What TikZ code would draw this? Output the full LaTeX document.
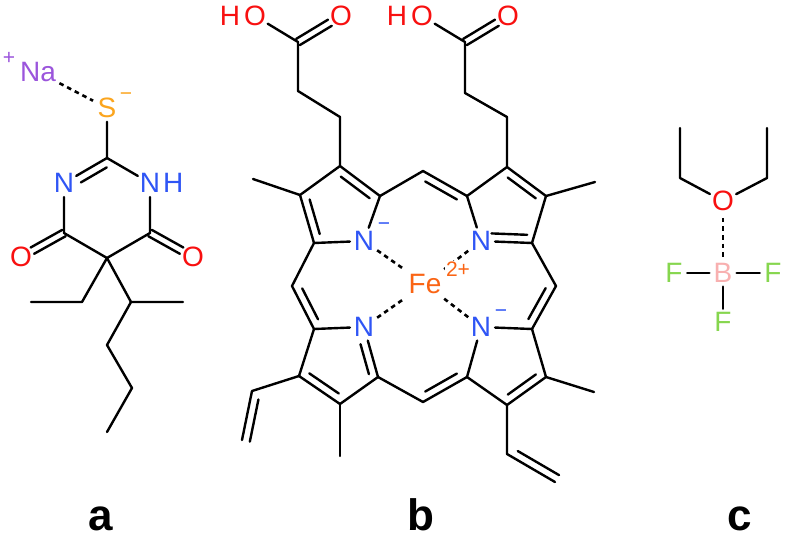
\documentclass[tikz,border=0pt]{standalone}
\usepackage{fontspec}
\setmainfont{Liberation Sans}
\usetikzlibrary{calc}
\definecolor{nblue}{HTML}{2F55F5}
\definecolor{ored}{HTML}{F81010}
\definecolor{syel}{HTML}{FBA51E}
\definecolor{napur}{HTML}{9B55DC}
\definecolor{feor}{HTML}{FA6414}
\definecolor{fgreen}{HTML}{86D64E}
\definecolor{bpink}{HTML}{F8B0B0}
\tikzset{
  bond/.style={line width=2.4pt,line cap=round,line join=round,black},
  ionic/.style={line width=2.6pt,black,dash pattern=on 4.6pt off 4pt,shorten <=2pt,shorten >=2pt},
  atom/.style={circle,inner sep=0pt,minimum size=26pt,font=\fontsize{28}{28}\selectfont},
  charge/.style={inner sep=0pt,font=\fontsize{21}{21}\selectfont},
  panel/.style={inner sep=0pt,anchor=base,font=\fontsize{44}{44}\bfseries\selectfont},
}
\newcommand{\innerbond}[5]{\draw[bond] ($(#1)!#4!(#2)!#3pt!90:(#2)$) -- ($(#2)!#5!(#1)!#3pt!-90:(#1)$);}
\newcommand{\carbonyl}[2]{%
  \draw[bond,shorten >=13pt] ($(#1)!3.6pt!90:(#2)$) -- ($(#2)!3.6pt!-90:(#1)$);
  \draw[bond,shorten >=13pt] ($(#1)!3.6pt!-90:(#2)$) -- ($(#2)!3.6pt!90:(#1)$);}
\begin{document}
\begin{tikzpicture}[x=1pt,y=-1pt]
\useasboundingbox (0,0) rectangle (785,539);
\fill[white] (0,0) rectangle (785,539);
% ---------- a ----------
\node[atom,text=napur,minimum size=44pt] (aNa) at (38,72) {Na};
\node[charge,text=napur] (aNaq) at (9,58) {+};
\node[atom,text=syel] (aS) at (107,108) {S};
\node[charge,text=syel] (aSq) at (126,97) {−};
\coordinate (aC2) at (107,158);
\node[atom,text=nblue] (aN1) at (64,183) {N};
\node[atom,text=nblue] (aN3) at (150,183) {N\rlap{\kern3pt H}};
\coordinate (aC4) at (64,233);
\coordinate (aC6) at (150,233);
\coordinate (aC5) at (107,258);
\node[atom,text=ored] (aO4) at (21,257) {O};
\node[atom,text=ored] (aO6) at (193,257) {O};
\coordinate (aE1) at (82,302);
\coordinate (aE2) at (31,302);
\coordinate (aP1) at (131,302);
\coordinate (aP2) at (183,302);
\coordinate (aP3) at (107,345);
\coordinate (aP4) at (132,388);
\coordinate (aP5) at (107,432);
\draw[ionic] (aNa) -- (aS);
\draw[bond] (aS) -- (aC2) -- (aN1);
\draw[bond] (aC2) -- (aN3);
\innerbond{aC2}{aN1}{8}{.1}{.3}
\draw[bond] (aN1) -- (aC4) -- (aC5) -- (aC6) -- (aN3);
\carbonyl{aC4}{aO4}
\carbonyl{aC6}{aO6}
\draw[bond] (aC5) -- (aE1) -- (aE2);
\draw[bond] (aC5) -- (aP1) -- (aP2);
\draw[bond] (aP1) -- (aP3) -- (aP4) -- (aP5);
% ---------- b ----------
\node[atom,text=feor,minimum size=44pt] (Fe) at (425,284) {Fe};
\node[atom,text=nblue] (NTL) at (364,241) {N};
\node[charge,text=nblue] (NTLq) at (384,227) {−};
\node[atom,text=nblue] (NTR) at (481,241) {N};
\node[atom,text=nblue] (NBL) at (364,327) {N};
\node[atom,text=nblue] (NBR) at (481,327) {N};
\node[charge,text=nblue] (NBRq) at (501,314) {−};
% top-left pyrrole
\coordinate (TLa) at (380,196);
\coordinate (TLb) at (340,166);
\coordinate (TLc) at (300,195);
\coordinate (TLd) at (314,243);
% top-right pyrrole
\coordinate (TRa) at (467,196);
\coordinate (TRb) at (507,167);
\coordinate (TRc) at (546,196);
\coordinate (TRd) at (532,243);
% bottom-left pyrrole
\coordinate (BLa) at (378,377);
\coordinate (BLb) at (340,404);
\coordinate (BLc) at (299,376);
\coordinate (BLd) at (314,329);
% bottom-right pyrrole
\coordinate (BRa) at (467,377);
\coordinate (BRb) at (507,405);
\coordinate (BRc) at (546,377);
\coordinate (BRd) at (532,329);
% meso
\coordinate (MT) at (423,171);
\coordinate (MB) at (423,402);
\coordinate (ML) at (292,286);
\coordinate (MR) at (556,286);
% side chains
\coordinate (CH1) at (340,117);
\coordinate (CH2) at (298,91);
\coordinate (CC1) at (298,42);
\node[atom,text=ored] (OH1) at (255,16) {\llap{H\kern4pt}O};
\node[atom,text=ored] (OD1) at (341,16) {O};
\coordinate (CH3) at (507,117);
\coordinate (CH4) at (465,93);
\coordinate (CC2) at (465,42);
\node[atom,text=ored] (OH2) at (422,16) {\llap{H\kern4pt}O};
\node[atom,text=ored] (OD2) at (508,16) {O};
\coordinate (Me1) at (253,179);
\coordinate (Me2) at (595,182);
\coordinate (Me3) at (594,392);
\coordinate (Me4) at (340,456);
\coordinate (V1) at (252,391);
\coordinate (V2) at (242,440);
\coordinate (V3) at (507,454);
\coordinate (V4) at (555,482);
% skeleton
\draw[bond] (NTL) -- (TLa) -- (TLb) -- (TLc) -- (TLd) -- (NTL);
\draw[bond] (NTR) -- (TRa) -- (TRb) -- (TRc) -- (TRd) -- (NTR);
\draw[bond] (NBL) -- (BLa) -- (BLb) -- (BLc) -- (BLd) -- (NBL);
\draw[bond] (NBR) -- (BRa) -- (BRb) -- (BRc) -- (BRd) -- (NBR);
\draw[bond] (TLa) -- (MT) -- (TRa);
\draw[bond] (TRd) -- (MR) -- (BRd);
\draw[bond] (BRa) -- (MB) -- (BLa);
\draw[bond] (BLd) -- (ML) -- (TLd);
\innerbond{TLb}{TLa}{-8}{.14}{.14}
\innerbond{TLc}{TLd}{8}{.14}{.14}
\innerbond{MT}{TRa}{-8}{.14}{.14}
\innerbond{TRb}{TRc}{-8}{.14}{.14}
\innerbond{NTR}{TRd}{8}{.2}{.1}
\innerbond{MR}{BRd}{-8}{.14}{.14}
\innerbond{BRc}{BRb}{-8}{.14}{.14}
\innerbond{BRa}{MB}{-8}{.14}{.14}
\innerbond{BLa}{NBL}{8}{.1}{.3}
\innerbond{BLb}{BLc}{-8}{.14}{.14}
\innerbond{ML}{BLd}{8}{.14}{.14}
\draw[bond] (TLb) -- (CH1) -- (CH2) -- (CC1) -- (OH1);
\carbonyl{CC1}{OD1}
\draw[bond] (TRb) -- (CH3) -- (CH4) -- (CC2) -- (OH2);
\carbonyl{CC2}{OD2}
\draw[bond] (TLc) -- (Me1);
\draw[bond] (TRc) -- (Me2);
\draw[bond] (BRc) -- (Me3);
\draw[bond] (BLb) -- (Me4);
\draw[bond] (BLc) -- (V1) -- (V2);
\innerbond{V1}{V2}{8}{.14}{0}
\draw[bond] (BRb) -- (V3) -- (V4);
\innerbond{V3}{V4}{8}{.14}{0}
\draw[ionic] (NTL) -- (Fe);
\draw[ionic] (NBL) -- (Fe);
\draw[ionic] (NBR) -- (Fe);
\draw[ionic] (NTR) -- (Fe);
\node[charge,text=feor,fill=white,inner sep=1pt] (Feq) at (458,269) {2+};
% ---------- c ----------
\node[atom,text=ored] (cO) at (723,201) {O};
\node[atom,text=bpink] (cB) at (723,273) {B};
\node[atom,text=fgreen] (cF1) at (674,273) {F};
\node[atom,text=fgreen] (cF2) at (773,273) {F};
\node[atom,text=fgreen] (cF3) at (723,322) {F};
\coordinate (cL1) at (680,178);
\coordinate (cL2) at (680,128);
\coordinate (cR1) at (767,178);
\coordinate (cR2) at (767,128);
\draw[bond] (cO) -- (cL1) -- (cL2);
\draw[bond] (cO) -- (cR1) -- (cR2);
\draw[ionic] (cO) -- (cB);
\draw[bond] (cB) -- (cF1);
\draw[bond] (cB) -- (cF2);
\draw[bond] (cB) -- (cF3);
% panel labels
\node[panel] (la) at (101,530) {a};
\node[panel] (lb) at (421,530) {b};
\node[panel] (lc) at (740,530) {c};
\end{tikzpicture}
\end{document}
